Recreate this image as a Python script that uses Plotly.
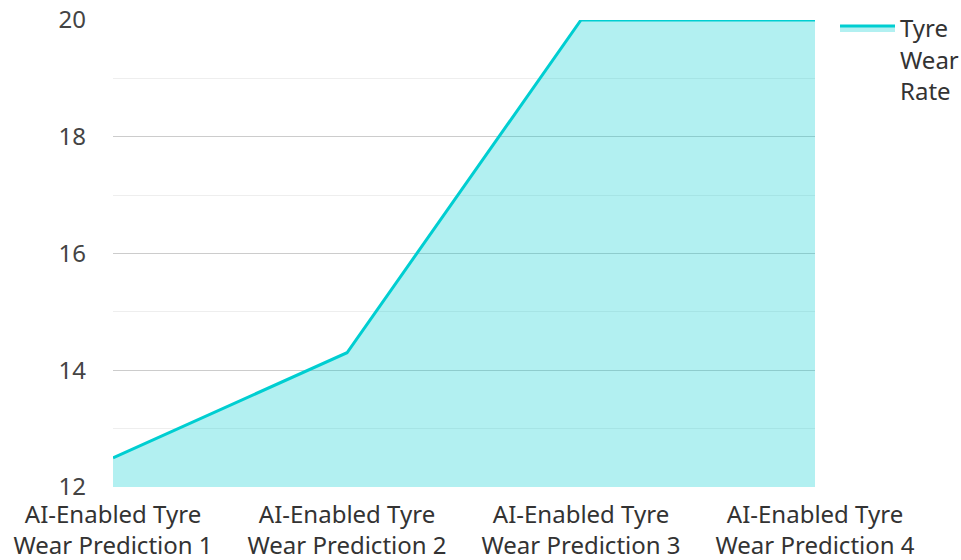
import plotly.graph_objects as go

categories = [
    "AI-Enabled Tyre<br>Wear Prediction 1",
    "AI-Enabled Tyre<br>Wear Prediction 2",
    "AI-Enabled Tyre<br>Wear Prediction 3",
    "AI-Enabled Tyre<br>Wear Prediction 4",
]
wear_rate = [12.5, 14.3, 20, 20]
series_name = "Tyre<br>Wear<br>Rate"
y_ticks = [12, 14, 16, 18, 20]

fig = go.Figure()
fig.add_trace(go.Scatter(
    x=categories, y=wear_rate, name=series_name, mode="lines",
    line=dict(color="#00CED1", width=3),
    fill="tozeroy", fillcolor="rgba(0,206,209,0.3)",
))

fig.update_layout(
    width=961, height=560,
    margin=dict(l=113, r=146, t=20, b=73, autoexpand=False),
    paper_bgcolor="white", plot_bgcolor="white",
    font=dict(family="Noto Sans, Open Sans, sans-serif", size=24, color="#444"),
    showlegend=True,
    legend=dict(x=1.0285, y=1.03, xanchor="left", yanchor="top", valign="top",
                itemwidth=55, bgcolor="rgba(0,0,0,0)",
                font=dict(size=24, color="#333"), tracegroupgap=0),
    xaxis=dict(range=[0, 3], showgrid=False, zeroline=False, showline=False,
               ticks="", automargin=False, ticklabelstandoff=11,
               tickfont=dict(size=24, color="#333")),
    yaxis=dict(range=[12, 20], tickvals=y_ticks, showgrid=True, gridcolor="#cccccc",
               gridwidth=1, zeroline=False, showline=False, ticks="",
               ticklabelstandoff=26, automargin=False,
               minor=dict(dtick=1, showgrid=True, gridcolor="#eeeeee", gridwidth=1),
               tickfont=dict(size=24, color="#444")),
)

fig.write_html(
    "out.html",
    config={"displayModeBar": False},
    post_script="document.body.style.margin='0';document.body.style.overflow='hidden';",
)
